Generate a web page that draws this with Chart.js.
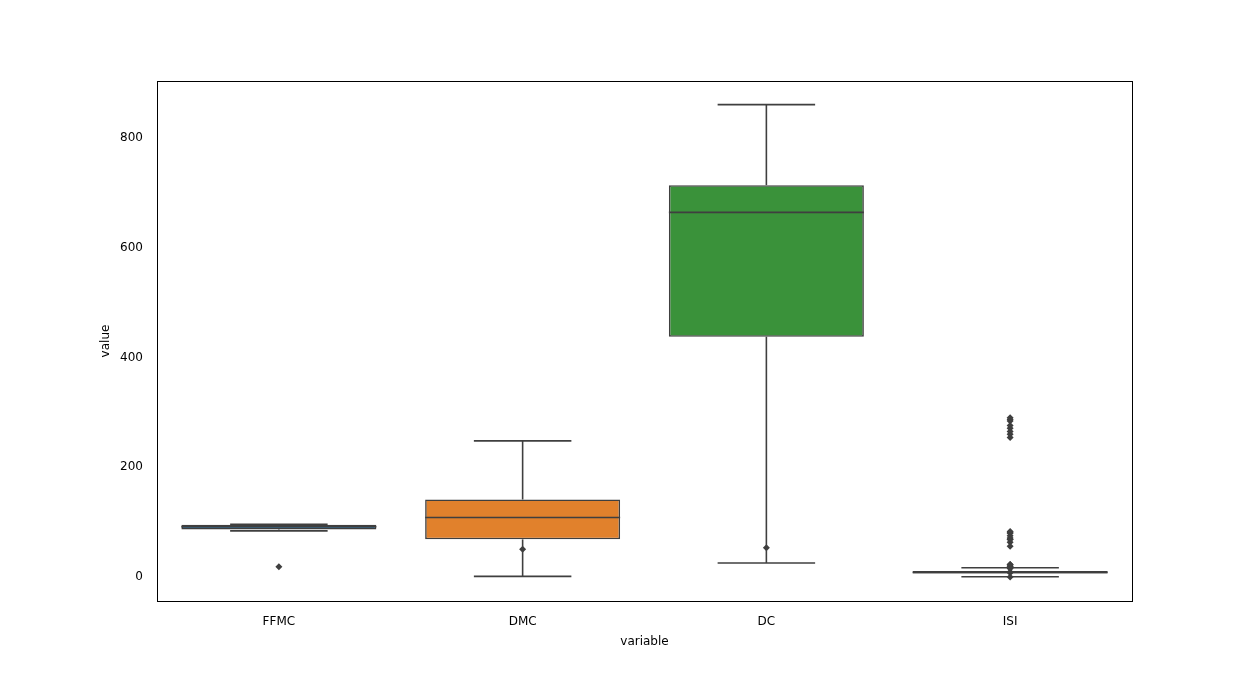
<!DOCTYPE html>
<html>
<head>
<meta charset="utf-8">
<script src="https://cdn.jsdelivr.net/npm/chart.js@4"></script>
<style>
  html, body { margin: 0; padding: 0; background: #fff; }
  #wrap { width: 1258px; height: 675px; }
</style>
</head>
<body>
<div id="wrap"><canvas id="c"></canvas></div>
<script>
// box stats
const categories = ["FFMC", "DMC", "DC", "ISI"]
const whiskerLow = [84.0, 1.1, 25.6, 0.4]
const q1 = [86.4, 68.6, 437.7, 6.5]
const median = [91.6, 108.4, 664.2, 8.4]
const q3 = [95.0, 141.2, 713.9, 10.8]
const whiskerHigh = [96.2, 248.0, 860.6, 17.0]
const outliers = [
  [18.7, 50.4, 53.4, 63.5, 68.2, 69.0, 71.0, 75.1, 79.5, 81.5, 83.0],
  [254.1, 260.0, 265.0, 271.0, 276.0, 284.0, 287.0, 290.0],
  [7.9, 9.3, 15.3, 18.0],
  [0.0, 17.9, 19.0, 20.0, 22.6, 22.7, 56.1],
]
const boxColors = ["#3274a1", "#e1812c", "#3a923a", "#c03d3e"]
const yTicks = [0, 200, 400, 600, 800]

const LINE = "#3f3f3f"

const outlierPoints = []
outliers.forEach((vals, i) => vals.forEach(v => outlierPoints.push({x: i, y: v})))

const boxPlugin = {
  id: "boxParts",
  afterDatasetsDraw(chart) {
    const {ctx, scales: {x, y}, chartArea} = chart
    const meta = chart.getDatasetMeta(0)
    ctx.save()
    ctx.strokeStyle = LINE
    ctx.lineWidth = 1.6
    categories.forEach((c, i) => {
      const bar = meta.data[i]
      const half = bar.width / 2
      const cx = x.getPixelForValue(i)
      const line = (x1, y1, x2, y2) => {
        ctx.beginPath(); ctx.moveTo(x1, y1); ctx.lineTo(x2, y2); ctx.stroke()
      }
      // whiskers
      line(cx, y.getPixelForValue(q3[i]), cx, y.getPixelForValue(whiskerHigh[i]))
      line(cx, y.getPixelForValue(q1[i]), cx, y.getPixelForValue(whiskerLow[i]))
      // caps (half box width)
      line(cx - half / 2, y.getPixelForValue(whiskerHigh[i]), cx + half / 2, y.getPixelForValue(whiskerHigh[i]))
      line(cx - half / 2, y.getPixelForValue(whiskerLow[i]), cx + half / 2, y.getPixelForValue(whiskerLow[i]))
      // median
      line(cx - half, y.getPixelForValue(median[i]), cx + half, y.getPixelForValue(median[i]))
    })
    // frame
    ctx.lineWidth = 1
    ctx.strokeStyle = "#000"
    ctx.strokeRect(chartArea.left + 0.5, chartArea.top + 0.5,
      chartArea.right - chartArea.left, chartArea.bottom - chartArea.top)
    ctx.restore()
  },
}

new Chart(document.getElementById("c"), {
  data: {
    labels: categories,
    datasets: [
      {
        type: "bar",
        data: categories.map((c, i) => [q1[i], q3[i]]),
        backgroundColor: boxColors,
        borderColor: LINE,
        borderWidth: 1.6,
        borderSkipped: false,
        categoryPercentage: 0.8,
        barPercentage: 1.0,
      },
      {
        type: "scatter",
        data: outlierPoints,
        pointStyle: "rectRot",
        radius: 3.5,
        backgroundColor: LINE,
        borderColor: LINE,
        borderWidth: 0,
      },
    ],
  },
  options: {
    responsive: true,
    maintainAspectRatio: false,
    animation: false,
    layout: { padding: { left: 95, right: 126, top: 81, bottom: 24 } },
    plugins: { legend: { display: false }, tooltip: { enabled: false } },
    scales: {
      x: {
        type: "category",
        offset: true,
        grid: { display: false },
        border: { display: false },
        ticks: { color: "#000", font: { family: "DejaVu Sans", size: 12 }, padding: 6 },
        title: { display: true, text: "variable", color: "#000", font: { family: "DejaVu Sans", size: 12 }, padding: 2 },
        afterFit: s => { s.height = 50 },
      },
      y: {
        min: -43.7,
        max: 903.6,
        grid: { display: false, drawTicks: true },
        border: { display: false },
        afterBuildTicks: s => { s.ticks = yTicks.map(v => ({value: v})) },
        ticks: { color: "#000", font: { family: "DejaVu Sans", size: 12 }, padding: 6 },
        title: { display: true, text: "value", color: "#000", font: { family: "DejaVu Sans", size: 12 }, padding: 4 },
        afterFit: s => { s.width = 62 },
      },
    },
  },
  plugins: [boxPlugin],
})
</script>
</body>
</html>
